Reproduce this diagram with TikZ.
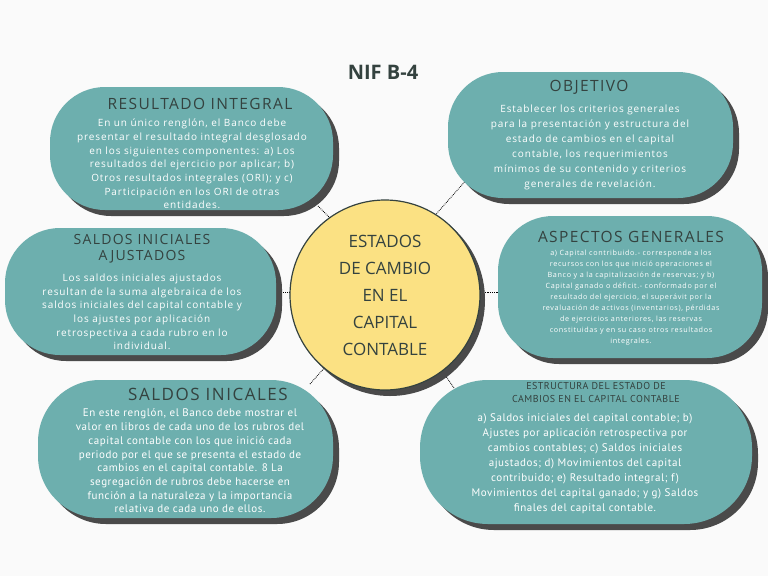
\documentclass[tikz,border=0pt]{standalone}
\usepackage{fontspec}
\setmainfont{Open Sans}[LetterSpace=9]
\newfontfamily\titlefont{Open Sans}[LetterSpace=0]
\newfontfamily\condfont{PT Sans}[LetterSpace=5]
\usetikzlibrary{shapes.geometric}
\definecolor{teal1}{HTML}{6DAFAE}
\definecolor{shad}{HTML}{4A4A4A}
\definecolor{head}{HTML}{34423F}
\definecolor{yel}{HTML}{FBE183}
\begin{document}
\begin{tikzpicture}[x=1pt,y=-1pt,
  pill/.style={fill=teal1},
  shd/.style={fill=shad},
  hd/.style={text=head,font=\fontsize{15.5}{16}\selectfont,align=center},
  bd/.style={text=white,align=center},
  conn/.style={densely dotted,thick,draw=black}]
\fill[black!2] (0,0) rectangle (768,576);
\useasboundingbox (0,0) rectangle (768,576);
\node[font=\titlefont\bfseries\fontsize{20}{22}\selectfont,text=head] (title) at (383,72) {NIF B-4};
\coordinate (c1a) at (318,206); \coordinate (c1b) at (336,224);
\coordinate (c2a) at (276,292); \coordinate (c2b) at (292,292);
\coordinate (c3a) at (468,178); \coordinate (c3b) at (430,221);
\coordinate (c4a) at (500,292); \coordinate (c4b) at (479,292);
\coordinate (c5a) at (310,384); \coordinate (c5b) at (326,366);
\coordinate (c6a) at (454,388); \coordinate (c6b) at (438,365);
\draw[conn] (c1a)--(c1b); \draw[conn] (c2a)--(c2b); \draw[conn] (c3a)--(c3b);
\draw[conn] (c4a)--(c4b); \draw[conn] (c5a)--(c5b); \draw[conn] (c6a)--(c6b);
\newcommand\pillbox[5]{%
 \fill[shd,rounded corners=#5] (#1+6,#2+6) rectangle (#3+6,#4+6);
 \fill[pill,rounded corners=#5] (#1,#2) rectangle (#3,#4);}
\pillbox{50}{87}{333}{210}{55}
\pillbox{5}{228}{276}{355}{55}
\pillbox{448}{72}{733}{198}{55}
\pillbox{498}{216}{762}{358}{55}
\pillbox{38}{380}{333}{518}{62}
\pillbox{420}{380}{752}{524}{68}
\fill[shad] (390,300) ellipse (95 and 96);
\node[ellipse,draw=head,line width=1.2pt,fill=yel,minimum width=190,minimum height=190,
  font=\titlefont\fontsize{17}{27}\selectfont,text=head,align=center] (core) at (385,295)
  {ESTADOS\\DE CAMBIO\\EN EL\\CAPITAL\\CONTABLE};
\node[hd] (h1) at (200,104) {RESULTADO INTEGRAL};
\node[bd,font=\fontsize{10}{13.7}\selectfont] (t1) at (192,164)
 {En un único renglón, el Banco debe\\presentar el resultado integral desglosado\\en los siguientes componentes: a) Los\\resultados del ejercicio por aplicar; b)\\Otros resultados integrales (ORI); y c)\\Participación en los ORI de otras\\entidades.};
\node[hd,font=\fontsize{14}{16}\selectfont] (h2) at (142,249) {SALDOS INICIALES\\AJUSTADOS};
\node[bd,font=\fontsize{10}{13.7}\selectfont] (t2) at (142,312)
 {Los saldos iniciales ajustados\\resultan de la suma algebraica de los\\saldos iniciales del capital contable y\\los ajustes por aplicación\\retrospectiva a cada rubro en lo\\individual.};
\node[hd] (h3) at (589,87) {OBJETIVO};
\node[bd,font=\fontsize{10}{15}\selectfont] (t3) at (590,147)
 {Establecer los criterios generales\\para la presentación y estructura del\\estado de cambios en el capital\\contable, los requerimientos\\mínimos de su contenido y criterios\\generales de revelación.};
\node[hd] (h4) at (631,237) {ASPECTOS GENERALES};
\node[bd,font=\fontsize{7.2}{11}\selectfont] (t4) at (631,298)
 {a) Capital contribuido.- corresponde a los\\recursos con los que inició operaciones el\\Banco y a la capitalización de reservas; y b)\\Capital ganado o déficit.- conformado por el\\resultado del ejercicio, el superávit por la\\revaluación de activos (inventarios), pérdidas\\de ejercicios anteriores, las reservas\\constituidas y en su caso otros resultados\\integrales.};
\node[hd,font=\fontsize{17}{18}\selectfont] (h5) at (208,394) {SALDOS INICALES};
\node[bd,font=\condfont\fontsize{11}{13.7}\selectfont] (t5) at (190,461)
 {En este renglón, el Banco debe mostrar el\\valor en libros de cada uno de los rubros del\\capital contable con los que inició cada\\periodo por el que se presenta el estado de\\cambios en el capital contable. 8 La\\segregación de rubros debe hacerse en\\función a la naturaleza y la importancia\\relativa de cada uno de ellos.};
\node[hd,font=\condfont\fontsize{10}{13}\selectfont] (h6) at (596,392) {ESTRUCTURA DEL ESTADO DE\\CAMBIOS EN EL CAPITAL CONTABLE};
\node[bd,font=\condfont\fontsize{11}{15}\selectfont] (t6) at (585,464)
 {a) Saldos iniciales del capital contable; b)\\Ajustes por aplicación retrospectiva por\\cambios contables; c) Saldos iniciales\\ajustados; d) Movimientos del capital\\contribuido; e) Resultado integral; f)\\Movimientos del capital ganado; y g) Saldos\\finales del capital contable.};
\end{tikzpicture}
\end{document}
